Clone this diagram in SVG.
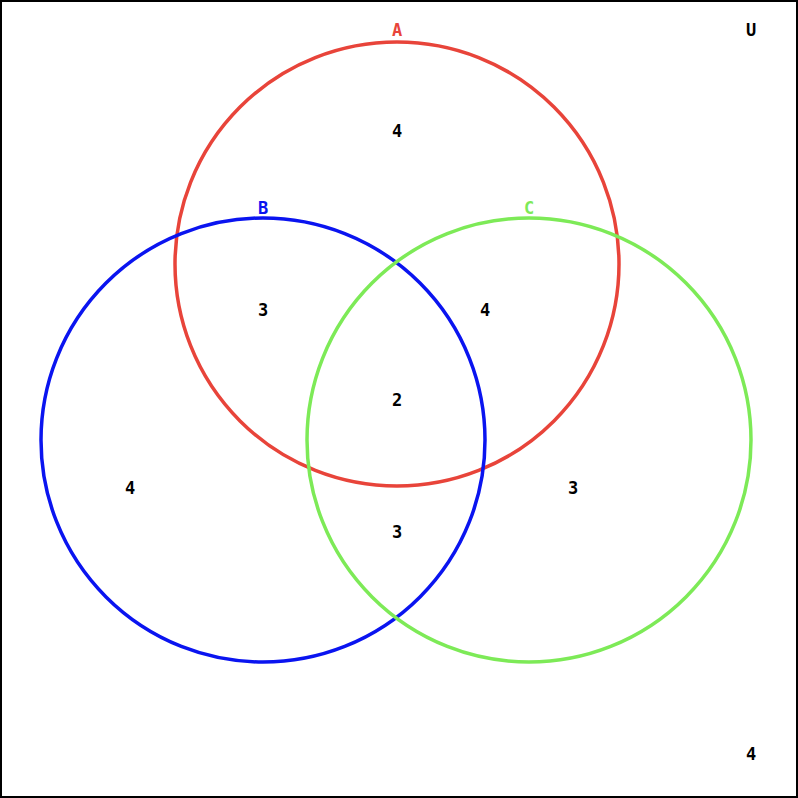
<svg xmlns="http://www.w3.org/2000/svg" width="798" height="798" viewBox="0 0 798 798">
<style>
.c{fill:none;stroke-width:3.5}
.t{font-family:"DejaVu Sans Mono","Liberation Mono",monospace;font-weight:bold;font-size:17px;text-anchor:middle;dominant-baseline:central}
</style>
<rect x="0" y="0" width="798" height="798" fill="#fff"/>
<rect x="1" y="1" width="796" height="796" fill="none" stroke="#000" stroke-width="2"/>
<g id="connectors"></g>
<g id="A"><circle class="c" cx="397" cy="264" r="222" stroke="#e8443a"/><text class="t" x="397" y="30" fill="#e8443a">A</text></g>
<g id="B"><circle class="c" cx="263" cy="440" r="222" stroke="#0a14f0"/><text class="t" x="263" y="208" fill="#0a14f0">B</text></g>
<g id="C"><circle class="c" cx="529" cy="440" r="222" stroke="#7dea57"/><text class="t" x="529" y="208" fill="#7dea57">C</text></g>
<g id="U"><text class="t" x="751" y="30">U</text></g>
<g id="counts">
<text class="t" x="397" y="131">4</text>
<text class="t" x="263" y="310">3</text>
<text class="t" x="485" y="310">4</text>
<text class="t" x="397" y="400">2</text>
<text class="t" x="130" y="488">4</text>
<text class="t" x="573" y="488">3</text>
<text class="t" x="397" y="532">3</text>
<text class="t" x="751" y="754">4</text>
</g>
</svg>
